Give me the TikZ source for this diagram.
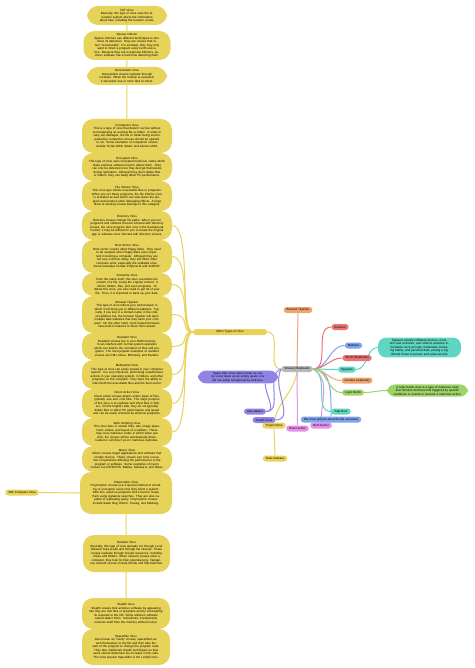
\documentclass[tikz,border=0pt]{standalone}
\usepackage{fontspec}
\setmainfont{Liberation Sans}
\usetikzlibrary{backgrounds}
\definecolor{vyellow}{HTML}{E8D35A}
\definecolor{vorange}{HTML}{F0A46E}
\definecolor{vgray}{HTML}{B8B8B8}
\definecolor{vpurple}{HTML}{8F84E6}
\definecolor{vred}{HTML}{E97474}
\definecolor{vblue}{HTML}{7FA3EC}
\definecolor{vteal}{HTML}{5FD6C1}
\definecolor{vgreen}{HTML}{9ED36A}
\definecolor{vpink}{HTML}{E58FE8}
\begin{document}
\begin{tikzpicture}[x=1pt,y=-1pt,font=\fontsize{3}{3.5}\selectfont,
	vbox/.style={fill=vyellow,rounded corners=11pt,align=center,inner xsep=7pt,inner ysep=1pt},
	vtag/.style={fill=#1,rounded corners=3pt,align=center,inner xsep=3pt,inner ysep=1.2pt,minimum height=6pt},
	vdesc/.style={fill=#1,rounded corners=8pt,align=center,inner xsep=6pt,inner ysep=1.5pt},
	vlink/.style={draw=#1,line width=1pt}]
	\useasboundingbox (0,0) rectangle (474,668);
	% left column
	\node[vbox,minimum height=19pt,text width=66pt] (fat) at (127,15.5) {FAT Virus\\Basically, this type of virus uses the allocation system where the information about files, including the location, exists.};
	\node[vbox,minimum height=29pt,text width=73pt] (sparse) at (127,45.5) {Sparse Infector\\Sparse infectors use different techniques to minimize its detection. They are viruses that infect ``occasionally''. For example, they may only want to infect a program every tenth execution. Because they are occasional infectors, antivirus software has a hard time detecting them.};
	\node[vbox,minimum height=18pt,text width=66pt] (nonres) at (127,76) {Nonresident Virus\\Nonresident viruses replicate through modules. When the module is executed, it will select one or more files to infect.};
	\node[vbox,minimum height=34pt,text width=76pt] (companion) at (127,136) {Companion Virus\\This is a type of virus that doesn't survive without accompanying an existing file or folder. In order to carry out damages, the file or folder being accompanied by companion viruses should be opened or run. Some examples of companion viruses include Terrax.1069, Stator, and Asimov.1539.};
	\node[vbox,minimum height=28pt,text width=76pt] (encrypted) at (127,167) {Encrypted Virus\\This type of virus uses encrypted malicious codes which make antivirus software hard to detect them. They can only be detected once they decrypt themselves during replication. Although they don't delete files or folders, they can badly affect PC performance.};
	\node[vbox,minimum height=30pt,text width=76pt] (fileinf) at (127,196) {File Infector Virus\\This virus type infects executable files or programs. When you run these programs, the file infector virus is activated as well which can slow down the program and produce other damaging effects. A large block of existing viruses belongs to this category.};
	\node[vbox,minimum height=29pt,text width=76pt] (directory) at (127,225.5) {Directory Virus\\Directory viruses change file paths. When you run programs and software that are infected with directory viruses, the virus program also runs in the background. Further, it may be difficult for you to locate the original app or software once infected with directory viruses.};
	\node[vbox,minimum height=33pt,text width=76pt] (bootv) at (127,256.5) {Boot Sector Virus\\Boot sector viruses affect floppy disks. They used to be rampant when floppy disks were important in booting a computer. Although they are not very common today, they still infect other computer units, especially the outdated ones. Some examples include Polyboot.B and AntiEXE.};
	\node[vbox,minimum height=23pt,text width=76pt] (overwrite) at (127,284.5) {Overwrite Virus\\From the name itself, this virus overwrites the content of a file, losing the original content. It infects folders, files, and even programs. To delete this virus, you also need to get rid of your file. Thus, it is important to back up your data.};
	\node[vbox,minimum height=37pt,text width=76pt] (hijackv) at (127,314.5) {Browser Hijacker\\This type of virus infects your web browser in which it will bring you to different websites. Typically, if you key in a domain name in the internet address bar, the browser hijacker will open multiple fake websites that may harm your computer. On the other hand, most trusted browsers have built-in features to block them ahead.};
	\node[vbox,minimum height=27pt,text width=76pt] (resident) at (127,346.5) {Resident Virus\\Resident viruses live in your RAM memory. It can interfere with normal system operation which can lead to the corruption of files and programs. The most popular examples of resident viruses are CMJ, Meve, MrKlunky, and Randex.};
	\node[vbox,minimum height=29pt,text width=76pt] (multi) at (127,374.5) {Multipartite Virus\\This type of virus can easily spread in your computer system. It is very infectious, performing unauthorized actions in your operating system, in folders, and other programs on the computer. They have the ability to infect both the executable files and the boot sector.};
	\node[vbox,minimum height=29pt,text width=76pt] (directv) at (127,403.5) {Direct Action Virus\\Direct action viruses attack certain types of files, typically .exe and .com files. The major purpose of this virus is to replicate and infect files in folders. On the brighter side, they do not typically delete files or affect PC performance and speed and can be easily removed by antivirus programs.};
	\node[vbox,minimum height=28pt,text width=76pt] (webscript) at (127,432) {Web Scripting Virus\\This virus lives in certain links, ads, image placement, videos, and layout of a website. These may carry malicious codes in which when you click, the viruses will be automatically downloaded or will direct you to malicious websites.};
	\node[vbox,minimum height=26pt,text width=76pt] (macro) at (127,459) {Macro Virus\\Macro viruses target applications and software that contain macros. These viruses can carry out series of operations affecting the performance of the program or software. Some examples of macro viruses are O97M/Y2K, Bablas, Melissa.A, and Relax.};
	\node[vbox,minimum height=42pt,text width=78pt] (poly) at (126,493) {Polymorphic Virus\\Polymorphic viruses use a special method of encoding or encryption every time they infect a system. With this, antivirus programs find it hard to locate them using signature searches. They are also capable of replicating easily. Polymorphic viruses include Satan Bug, Elkern, Tuareg, and Marburg.};
	\node[vbox,minimum height=37pt,text width=73pt] (network) at (126.5,553.5) {Network Virus\\Basically, this type of virus spreads out through Local Network Area (LAN) and through the internet. These viruses replicate through shared resources, including drives and folders. When network viruses enter a computer, they look for their potential prey. Dangerous network viruses include Nimda and SQLSlammer.};
	\node[vbox,minimum height=31pt,text width=74pt] (stealthv) at (126,613.5) {Stealth Virus\\Stealth viruses trick antivirus software by appearing like they are real files or programs and by intercepting its requests to the OS. Some antivirus software cannot detect them. Sometimes, it temporarily removes itself from the memory without notice.};
	\node[vbox,minimum height=36pt,text width=74pt] (spacefill) at (126,647) {Spacefiller Virus\\Also known as ``cavity'' viruses, spacefillers attach themselves to the file and then take the start of the program to change the program code. They also implement stealth techniques so that users cannot determine the increase in file code. The most popular Spacefiller is the Lehigh virus.};
	\node[vtag=vyellow] (twenty) at (22,492.5) {20th Computer Virus};
	% centre
	\node[vtag=vyellow,minimum width=74pt] (other) at (230,332) {Other Types of Virus};
	\node[vtag=vgray] (viruses) at (297,369) {Viruses (Replicate)};
	\node[vtag=vorange] (bhij) at (298,310) {Browser Hijacker};
	\node[vdesc=vpurple,text width=68pt] (spacedesc) at (238,377) {Space filler virus (also known as cavity virus) takes up an empty space of a file not easily recognized by Antivirus.};
	\node[vtag=vpurple] (adware) at (255,411.5) {Ads adware};
	\node[vtag=vpurple] (stealthtag) at (264,420) {Stealth Virus};
	\node[vtag=vyellow] (trojan) at (274,425.5) {Trojan Horse};
	\node[vtag=vpink] (directtag) at (297.5,428.5) {Direct action};
	\node[vtag=vpink] (boottag) at (321,425.5) {Boot Sector};
	\node[vtag=vblue] (filev) at (331,419.5) {File Virus (infects when the file executes)};
	\node[vtag=vteal] (trapdoor) at (341,411.5) {Trap Door};
	\node[vtag=vyellow] (dualm) at (275,458.5) {Dual malware};
	\node[vtag=vred] (ransom) at (340,327) {Ransom};
	\node[vtag=vblue] (malware) at (353.5,345.5) {Malware};
	\node[vtag=vred] (worm) at (357,358) {Worm (Replicate)};
	\node[vtag=vteal] (spyware) at (347,369.5) {Spyware};
	\node[vdesc=vteal,text width=71pt] (spydesc) at (419.5,347.5) {Spyware silently infiltrates devices, monitors user activities, and collects sensitive information such as login credentials, browsing habits, and personal data, posing a significant threat to privacy and cybersecurity.};
	\node[vtag=vorange] (cookies) at (357,380.5) {Cookies (replicate)};
	\node[vtag=vgreen] (logic) at (353,392.5) {Logic Bomb};
	\node[vdesc=vgreen,text width=69pt] (logicdesc) at (427.5,390.5) {A logic bomb virus is a type of malicious code that remains dormant until triggered by specific conditions or events to execute a malicious action.};
	\begin{scope}[on background layer]
		\fill[white] (0,0) rectangle (474,668);
		\draw[vlink=vyellow] (fat.south) -- (stealthv.north);
		\draw[vlink=vyellow] (twenty.east) -- (poly.west);
		\foreach \n in {directory,bootv,overwrite,hijackv,resident,multi,directv,webscript}
			\draw[vlink=vyellow] (other.west) .. controls +(-14,0) and +(20,0) .. (\n.east);
		\draw[vlink=vyellow] (other.east) to[out=0,in=180] (viruses.west);
		\draw[vlink=vyellow] (viruses.south) to[out=-100,in=80] (trojan.north);
		\draw[vlink=vyellow] (trojan.south) -- (dualm.north);
		\draw[vlink=vorange] (viruses.north) -- (bhij.south);
		\draw[vlink=vpurple] (viruses.west) to[out=200,in=0] (adware.east);
		\draw[vlink=vpurple] (viruses.west) to[out=240,in=0] (stealthtag.east);
		\draw[vlink=vpurple] (adware.east) to[out=0,in=-90] ([xshift=-13pt]spacedesc.south east);
		\draw[vlink=vpink] (viruses.south) -- (directtag.north);
		\draw[vlink=vpink] (viruses.east) to[out=-30,in=90] (boottag.north);
		\draw[vlink=vblue] (viruses.east) to[out=0,in=90] (filev.north);
		\draw[vlink=vteal] (viruses.east) to[out=-20,in=180] (trapdoor.west);
		\draw[vlink=vred] (viruses.east) to[out=0,in=180] (ransom.west);
		\draw[vlink=vblue] (viruses.east) to[out=0,in=180] (malware.west);
		\draw[vlink=vred] (viruses.east) to[out=0,in=180] (worm.west);
		\draw[vlink=vteal] (viruses.east) to[out=0,in=180] (spyware.west);
		\draw[vlink=vorange] (viruses.east) to[out=0,in=180] (cookies.west);
		\draw[vlink=vgreen] (viruses.east) to[out=0,in=180] (logic.west);
		\draw[vlink=vteal] (spyware.east) to[out=0,in=180] (spydesc.west);
		\draw[vlink=vgreen] (logic.east) to[out=0,in=180] (logicdesc.west);
	\end{scope}
\end{tikzpicture}
\end{document}
